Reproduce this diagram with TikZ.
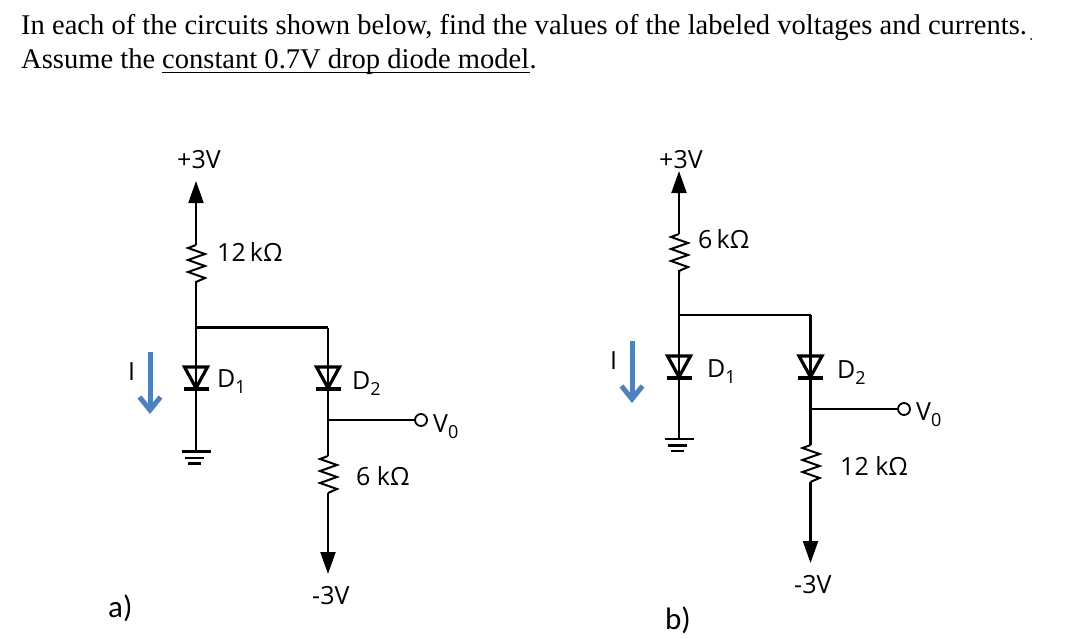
\documentclass[tikz,border=0pt]{standalone}
\usepackage{fontspec}
\setmainfont{Liberation Serif}
\newfontfamily\lab{Open Sans}
\newfontfamily\labb{Carlito}
\usetikzlibrary{arrows.meta,calc}
\definecolor{arrowblue}{RGB}{79,129,189}
\tikzset{
  wire/.style={line width=2.2pt,line cap=butt,black},
  thin wire/.style={line width=2.2pt,black},
  bodytext/.style={inner sep=0pt,anchor=base west,font=\fontsize{28.55}{32}\selectfont},
  volt/.style={inner sep=0pt,anchor=base west,font=\lab\fontsize{25}{28}\selectfont,text=black},
  letter/.style={inner sep=0pt,anchor=base west,font=\labb\fontsize{31}{34}\selectfont},
  supply/.style={wire,-{Triangle[length=22pt,width=15pt]}},
  blue arrow/.style={line width=5pt,color=arrowblue,-{Straight Barb[length=13pt,width=21pt,line width=5pt]}},
  term/.style={circle,draw=black,line width=1.8pt,fill=white,minimum size=12pt,inner sep=0pt},
}
\newcommand{\subs}[1]{\raisebox{-6pt}{\fontsize{18}{20}\selectfont #1}}
% resistor between two named coordinates (top, bottom): wires plus zigzag
\newcommand{\resistorzig}[2]{%
  \draw[line width=2pt,line join=miter] (#1) -- ++(-8,3) -- ++(17,6) -- ++(-17,6) -- ++(17,6) -- ++(-17,6) -- ++(17,6) -- ++(-9,4) -- (#2);}
% diode hanging from a named centre coordinate
\newcommand{\diodesym}[1]{%
  \draw[line width=3.2pt,line join=miter] ($(#1)+(-11.5,-11)$) -- ($(#1)+(11.5,-11)$) -- ($(#1)+(0,10)$) -- cycle;
  \draw[line width=3.4pt] ($(#1)+(-12.5,11)$) -- ($(#1)+(12.5,11)$);}
% ground at a named coordinate
\newcommand{\groundsym}[1]{%
  \draw[line width=2.2pt] ($(#1)+(-14.5,0)$) -- ($(#1)+(14.5,0)$);
  \draw[line width=2.2pt] ($(#1)+(-11,6.5)$) -- ($(#1)+(8,6.5)$);
  \draw[line width=2.8pt] ($(#1)+(-8,12)$) -- ($(#1)+(5,12)$);}
\begin{document}
\begin{tikzpicture}[x=1pt,y=-1pt]
\useasboundingbox (0,0) rectangle (1091,639);
% text
\node[bodytext] (l1) at (21,34.5) {In each of the circuits shown below, find the values of the labeled voltages and currents.};
\fill (1031,39) circle (1pt);
\node[bodytext] (l2a) at (21,68.5) {Assume the};
\node[bodytext] (l2b) at (162,68.5) {constant 0.7V drop diode model};
\node[bodytext] (l2c) at (l2b.base east) {.};
\draw[line width=1.7pt] ($(l2b.base west)+(0,4)$) -- ($(l2b.base east)+(0,4)$);

% ---- circuit a
\coordinate (aS) at (196,181);
\coordinate (aRt) at (196,245);
\coordinate (aRb) at (196,286);
\coordinate (aJ) at (196,327.5);
\coordinate (aD1) at (196,378);
\coordinate (aG) at (196,451.5);
\coordinate (aT) at (328,327.5);
\coordinate (aD2) at (328,378);
\coordinate (aB) at (328,420);
\coordinate (aR2t) at (328,456);
\coordinate (aR2b) at (328,493);
\coordinate (aE) at (328,574);
\coordinate (aI1) at (150,352);
\coordinate (aI2) at (150,414);
\node[term] (aO) at (421,420) {};
\draw[supply] (aRt) -- (aS);
\resistorzig{aRt}{aRb}
\draw[wire] (aRb) -- (aJ) -- (aD1);
\draw[thin wire] (aD1) -- (aG);
\draw[thin wire] (aJ) -- (aT);
\draw[wire] (aT) -- (aD2) -- (aR2t);
\draw[thin wire] (aB) -- (aO);
\resistorzig{aR2t}{aR2b}
\draw[supply] (aR2b) -- (aE);
\diodesym{aD1}
\diodesym{aD2}
\groundsym{aG}
\draw[blue arrow] (aI1) -- (aI2);
\node[volt] (aV1) at (177,168) {+3V};
\node[volt] (aR1l) at (217,261) {12\,kΩ};
\node[volt] (aIl) at (128,380) {I};
\node[volt] (aD1l) at (217,387) {D\subs{1}};
\node[volt] (aD2l) at (352,389) {D\subs{2}};
\node[volt] (aVo) at (433,432) {V\subs{0}};
\node[volt] (aR2l) at (356,485) {6 kΩ};
\node[volt] (aV2) at (312,604) {-3V};
\node[letter] (aL) at (108,617) {a)};

% ---- circuit b
\coordinate (bS) at (679,171);
\coordinate (bRt) at (679,234);
\coordinate (bRb) at (679,275);
\coordinate (bJ) at (679,315);
\coordinate (bD1) at (679,367);
\coordinate (bG) at (679,439);
\coordinate (bT) at (810.5,315);
\coordinate (bD2) at (810.5,367);
\coordinate (bB) at (810.5,409);
\coordinate (bR2t) at (810.5,445);
\coordinate (bR2b) at (810.5,482);
\coordinate (bE) at (810.5,563);
\coordinate (bI1) at (632,341);
\coordinate (bI2) at (632,403);
\node[term] (bO) at (904,409) {};
\draw[supply] (bRt) -- (bS);
\resistorzig{bRt}{bRb}
\draw[wire] (bRb) -- (bJ) -- (bD1);
\draw[thin wire] (bD1) -- (bG);
\draw[thin wire] (bJ) -- (bT);
\draw[wire] (bT) -- (bD2) -- (bR2t);
\draw[thin wire] (bB) -- (bO);
\resistorzig{bR2t}{bR2b}
\draw[supply] (bR2b) -- (bE);
\diodesym{bD1}
\diodesym{bD2}
\groundsym{bG}
\draw[blue arrow] (bI1) -- (bI2);
\node[volt] (bV1) at (659,168) {+3V};
\node[volt] (bR1l) at (698,248) {6\,kΩ};
\node[volt] (bIl) at (610,369) {I};
\node[volt] (bD1l) at (707,377) {D\subs{1}};
\node[volt] (bD2l) at (837,378) {D\subs{2}};
\node[volt] (bVo) at (916,420) {V\subs{0}};
\node[volt] (bR2l) at (840,475) {12 kΩ};
\node[volt] (bV2) at (794,593) {-3V};
\node[letter] (bL) at (665,629) {b)};
\end{tikzpicture}
\end{document}
